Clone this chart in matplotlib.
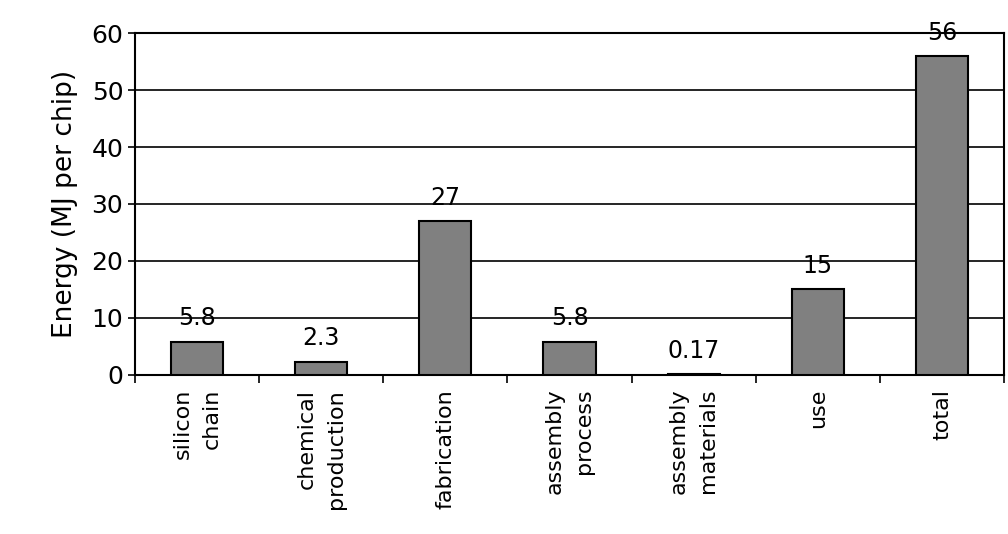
import matplotlib
matplotlib.use("Agg")
import matplotlib.pyplot as plt
import numpy as np

categories = ["silicon\nchain", "chemical\nproduction", "fabrication", "assembly\nprocess",
              "assembly\nmaterials", "use", "total"]
values = [5.8, 2.3, 27, 5.8, 0.17, 15, 56]
labels = ["5.8", "2.3", "27", "5.8", "0.17", "15", "56"]

fig = plt.figure(figsize=(10.08, 5.34), dpi=100)
ax = fig.add_axes([0.134, 0.298, 0.862, 0.64])
x = np.arange(len(categories))
ax.bar(x, values, width=0.42, color="#808080", edgecolor="black", linewidth=1.5, zorder=3)
for xi, v, l in zip(x, values, labels):
    ax.text(xi, v + 2.0, l, ha="center", va="bottom", fontsize=17)
ax.set_xlim(-0.5, len(categories) - 0.5)
ax.set_ylim(0, 60)
ax.set_yticks(range(0, 61, 10))
ax.yaxis.grid(True, color="black", linewidth=1.2, zorder=0)
ax.set_xticks(x)
ax.set_xticklabels(categories, rotation=90, fontsize=16, va="top", ha="center",
                   multialignment="right", linespacing=1.6)
ax.set_xticks(np.arange(-0.5, len(categories), 1), minor=True)
ax.tick_params(axis="x", which="major", length=0, pad=10)
ax.tick_params(axis="x", which="minor", length=6, width=1.2)
ax.tick_params(axis="y", labelsize=18, width=1.2, length=5)
ax.set_ylabel("Energy (MJ per chip)", fontsize=19, labelpad=10)
for s in ax.spines.values():
    s.set_linewidth(1.5)
fig.savefig("out.png", dpi=100)
